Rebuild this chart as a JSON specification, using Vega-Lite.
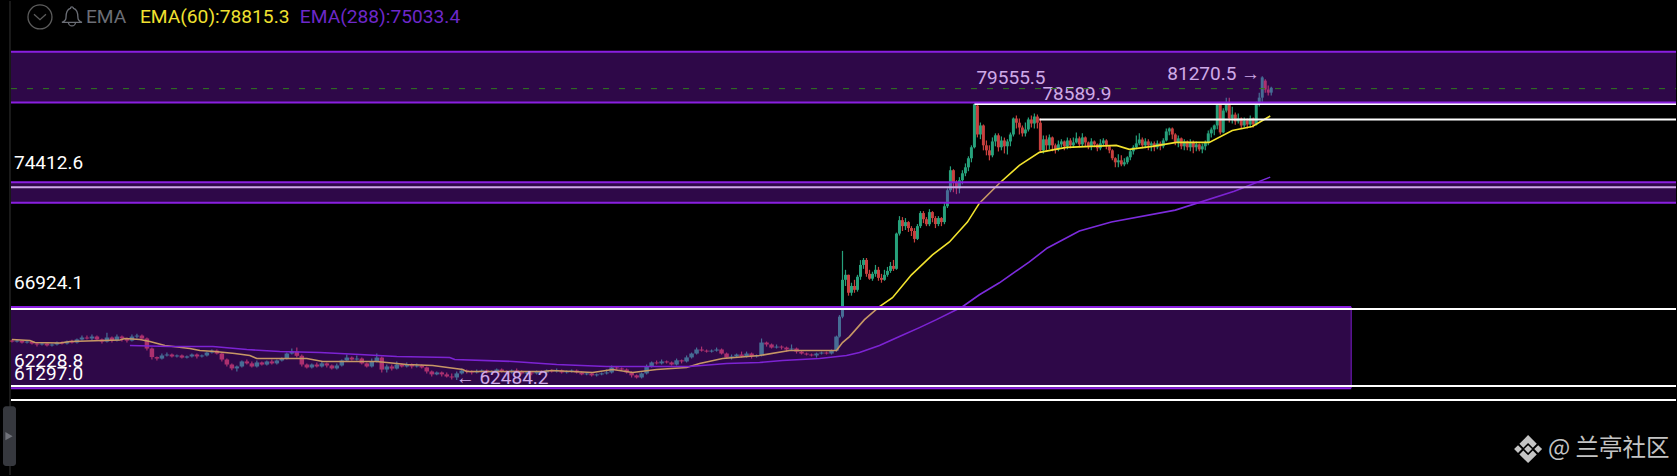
{"$schema":"https://vega.github.io/schema/vega-lite/v6.json","width":1677,"height":476,"padding":0,"autosize":{"type":"fit","contains":"padding"},"background":"#000000","config":{"view":{"stroke":null},"text":{"font":"Roboto"}},
"resolve":{"scale":{"color":"independent"}},
"datasets":{
"candles":[
{"t":12,"o":64920,"c":64860,"h":64990,"l":64800},{"t":17,"o":64860,"c":64920,"h":64980,"l":64800},{"t":22,"o":64920,"c":64800,"h":64930,"l":64740},{"t":27,"o":64800,"c":64860,"h":64920,"l":64740},{"t":32,"o":64860,"c":64740,"h":64870,"l":64680},{"t":37,"o":64740,"c":64680,"h":64800,"l":64560},{"t":42,"o":64680,"c":64740,"h":64800,"l":64620},{"t":47,"o":64740,"c":64620,"h":64750,"l":64560},{"t":52,"o":64620,"c":64680,"h":64740,"l":64560},{"t":57,"o":64680,"c":64800,"h":64860,"l":64620},{"t":62,"o":64800,"c":64740,"h":64860,"l":64680},{"t":67,"o":64740,"c":64860,"h":64920,"l":64680},{"t":72,"o":64860,"c":64800,"h":64980,"l":64740},{"t":77,"o":64800,"c":64990,"h":65050,"l":64740},{"t":82,"o":64990,"c":65110,"h":65230,"l":64920},{"t":87,"o":65110,"c":65050,"h":65230,"l":64990},{"t":92,"o":65050,"c":65170,"h":65290,"l":64920},{"t":97,"o":65170,"c":64990,"h":65230,"l":64920},{"t":102,"o":64990,"c":64860,"h":65050,"l":64740},{"t":107,"o":64860,"c":65110,"h":65410,"l":64800},{"t":112,"o":65110,"c":64920,"h":65170,"l":64800},{"t":117,"o":64920,"c":65170,"h":65290,"l":64860},{"t":122,"o":65170,"c":65050,"h":65230,"l":64860},{"t":127,"o":65050,"c":64920,"h":65110,"l":64800},{"t":132,"o":64920,"c":65170,"h":65290,"l":64860},{"t":137,"o":65170,"c":65230,"h":65350,"l":65050},{"t":142,"o":65230,"c":65050,"h":65290,"l":64990},{"t":147,"o":65050,"c":64430,"h":65110,"l":64310},{"t":152,"o":64430,"c":63900,"h":64490,"l":63750},{"t":157,"o":63900,"c":63810,"h":63940,"l":63690},{"t":162,"o":63810,"c":64000,"h":64120,"l":63750},{"t":167,"o":64000,"c":64060,"h":64180,"l":63940},{"t":172,"o":64060,"c":63940,"h":64120,"l":63870},{"t":177,"o":63940,"c":64000,"h":64060,"l":63870},{"t":182,"o":64000,"c":63870,"h":64060,"l":63810},{"t":187,"o":63870,"c":63940,"h":64000,"l":63810},{"t":192,"o":63940,"c":64060,"h":64120,"l":63870},{"t":197,"o":64060,"c":63940,"h":64120,"l":63810},{"t":202,"o":63940,"c":64000,"h":64060,"l":63870},{"t":207,"o":64000,"c":64180,"h":64240,"l":63940},{"t":212,"o":64180,"c":64300,"h":64370,"l":64120},{"t":217,"o":64300,"c":64120,"h":64370,"l":64060},{"t":222,"o":64120,"c":63750,"h":64180,"l":63630},{"t":227,"o":63750,"c":63440,"h":63810,"l":63320},{"t":232,"o":63440,"c":63200,"h":63510,"l":63080},{"t":237,"o":63200,"c":63320,"h":63380,"l":63010},{"t":242,"o":63320,"c":63630,"h":63690,"l":63260},{"t":247,"o":63630,"c":63510,"h":63750,"l":63440},{"t":252,"o":63510,"c":63320,"h":63630,"l":63260},{"t":257,"o":63320,"c":63570,"h":63690,"l":63260},{"t":262,"o":63570,"c":63440,"h":63630,"l":63380},{"t":267,"o":63440,"c":63630,"h":63690,"l":63380},{"t":272,"o":63630,"c":63510,"h":63750,"l":63440},{"t":277,"o":63510,"c":63690,"h":63750,"l":63440},{"t":282,"o":63690,"c":63810,"h":63870,"l":63630},{"t":287,"o":63810,"c":64120,"h":64180,"l":63750},{"t":292,"o":64120,"c":64240,"h":64430,"l":64060},{"t":297,"o":64240,"c":63980,"h":64490,"l":63870},{"t":302,"o":63980,"c":63440,"h":64060,"l":63320},{"t":307,"o":63440,"c":63260,"h":63510,"l":63200},{"t":312,"o":63260,"c":63440,"h":63510,"l":63200},{"t":317,"o":63440,"c":63320,"h":63570,"l":63260},{"t":322,"o":63320,"c":63510,"h":63630,"l":63260},{"t":327,"o":63510,"c":63380,"h":63570,"l":63260},{"t":332,"o":63380,"c":63200,"h":63440,"l":63130},{"t":337,"o":63200,"c":63380,"h":63510,"l":63130},{"t":342,"o":63380,"c":63690,"h":63750,"l":63320},{"t":347,"o":63690,"c":63870,"h":64060,"l":63630},{"t":352,"o":63870,"c":63750,"h":63940,"l":63690},{"t":357,"o":63750,"c":63810,"h":64000,"l":63690},{"t":362,"o":63810,"c":63510,"h":63870,"l":63440},{"t":367,"o":63510,"c":63320,"h":63570,"l":63260},{"t":372,"o":63320,"c":63630,"h":63810,"l":63260},{"t":377,"o":63630,"c":63870,"h":64120,"l":63570},{"t":382,"o":63870,"c":63130,"h":63940,"l":62950},{"t":387,"o":63130,"c":63320,"h":63440,"l":62950},{"t":392,"o":63320,"c":63190,"h":63440,"l":63070},{"t":397,"o":63190,"c":63440,"h":63630,"l":63130},{"t":402,"o":63440,"c":63320,"h":63510,"l":63260},{"t":407,"o":63320,"c":63440,"h":63570,"l":63260},{"t":412,"o":63440,"c":63320,"h":63510,"l":63190},{"t":417,"o":63320,"c":63380,"h":63510,"l":63260},{"t":422,"o":63380,"c":63260,"h":63440,"l":63190},{"t":427,"o":63260,"c":63010,"h":63320,"l":62890},{"t":432,"o":63010,"c":62830,"h":63070,"l":62700},{"t":437,"o":62830,"c":62950,"h":63010,"l":62770},{"t":442,"o":62950,"c":62830,"h":63010,"l":62700},{"t":447,"o":62830,"c":62700,"h":62950,"l":62640},{"t":452,"o":62700,"c":62640,"h":62890,"l":62520},{"t":457,"o":62640,"c":62890,"h":63010,"l":62490},{"t":462,"o":62890,"c":63070,"h":63200,"l":62830},{"t":467,"o":63070,"c":63010,"h":63130,"l":62890},{"t":472,"o":63010,"c":62950,"h":63070,"l":62830},{"t":477,"o":62950,"c":63010,"h":63130,"l":62890},{"t":482,"o":63010,"c":63070,"h":63130,"l":62950},{"t":487,"o":63070,"c":62950,"h":63130,"l":62890},{"t":492,"o":62950,"c":63010,"h":63070,"l":62890},{"t":497,"o":63010,"c":63130,"h":63200,"l":62950},{"t":502,"o":63130,"c":63010,"h":63190,"l":62950},{"t":507,"o":63010,"c":62950,"h":63070,"l":62890},{"t":512,"o":62950,"c":63070,"h":63130,"l":62890},{"t":517,"o":63070,"c":63010,"h":63190,"l":62950},{"t":522,"o":63010,"c":62890,"h":63070,"l":62830},{"t":527,"o":62890,"c":62950,"h":63010,"l":62830},{"t":532,"o":62950,"c":62890,"h":63010,"l":62770},{"t":537,"o":62890,"c":63010,"h":63070,"l":62830},{"t":542,"o":63010,"c":62950,"h":63070,"l":62890},{"t":547,"o":62950,"c":63070,"h":63130,"l":62890},{"t":552,"o":63070,"c":63010,"h":63130,"l":62950},{"t":557,"o":63010,"c":63070,"h":63200,"l":62950},{"t":562,"o":63070,"c":62950,"h":63130,"l":62890},{"t":567,"o":62950,"c":63010,"h":63070,"l":62890},{"t":572,"o":63010,"c":63070,"h":63130,"l":62950},{"t":577,"o":63070,"c":62950,"h":63130,"l":62890},{"t":582,"o":62950,"c":62830,"h":63010,"l":62770},{"t":587,"o":62830,"c":62890,"h":62950,"l":62770},{"t":592,"o":62890,"c":62770,"h":62950,"l":62700},{"t":597,"o":62770,"c":62830,"h":62890,"l":62700},{"t":602,"o":62830,"c":62890,"h":62950,"l":62770},{"t":607,"o":62890,"c":62950,"h":63130,"l":62830},{"t":612,"o":62950,"c":63260,"h":63380,"l":62890},{"t":617,"o":63260,"c":63200,"h":63320,"l":63130},{"t":622,"o":63200,"c":63130,"h":63260,"l":63070},{"t":627,"o":63130,"c":62950,"h":63190,"l":62890},{"t":632,"o":62950,"c":62770,"h":63010,"l":62640},{"t":637,"o":62770,"c":62640,"h":62830,"l":62580},{"t":642,"o":62640,"c":62890,"h":62950,"l":62580},{"t":647,"o":62890,"c":63320,"h":63440,"l":62830},{"t":652,"o":63320,"c":63570,"h":63630,"l":63260},{"t":657,"o":63570,"c":63510,"h":63690,"l":63440},{"t":662,"o":63510,"c":63630,"h":63750,"l":63440},{"t":667,"o":63630,"c":63570,"h":63690,"l":63510},{"t":672,"o":63570,"c":63440,"h":63630,"l":63380},{"t":677,"o":63440,"c":63700,"h":63810,"l":63380},{"t":682,"o":63700,"c":63630,"h":63750,"l":63510},{"t":687,"o":63630,"c":63880,"h":64000,"l":63570},{"t":692,"o":63880,"c":64120,"h":64180,"l":63810},{"t":697,"o":64120,"c":64370,"h":64490,"l":64060},{"t":702,"o":64370,"c":64300,"h":64550,"l":64240},{"t":707,"o":64300,"c":64240,"h":64370,"l":64180},{"t":712,"o":64240,"c":64300,"h":64370,"l":64180},{"t":717,"o":64300,"c":64370,"h":64490,"l":64240},{"t":722,"o":64370,"c":64120,"h":64430,"l":64060},{"t":727,"o":64120,"c":63870,"h":64180,"l":63810},{"t":732,"o":63870,"c":63940,"h":64060,"l":63750},{"t":737,"o":63940,"c":64060,"h":64120,"l":63870},{"t":742,"o":64060,"c":63940,"h":64240,"l":63870},{"t":747,"o":63940,"c":64120,"h":64240,"l":63870},{"t":752,"o":64120,"c":63940,"h":64180,"l":63810},{"t":757,"o":63940,"c":64000,"h":64060,"l":63870},{"t":762,"o":64000,"c":64800,"h":65050,"l":63940},{"t":767,"o":64800,"c":64680,"h":64860,"l":64550},{"t":772,"o":64680,"c":64490,"h":64740,"l":64430},{"t":777,"o":64490,"c":64550,"h":64680,"l":64430},{"t":782,"o":64550,"c":64490,"h":64620,"l":64370},{"t":787,"o":64490,"c":64370,"h":64550,"l":64240},{"t":792,"o":64370,"c":64430,"h":64680,"l":64300},{"t":797,"o":64430,"c":64240,"h":64490,"l":64120},{"t":802,"o":64240,"c":64120,"h":64300,"l":64060},{"t":807,"o":64120,"c":64060,"h":64180,"l":64000},{"t":812,"o":64060,"c":64000,"h":64120,"l":63940},{"t":817,"o":64000,"c":64120,"h":64180,"l":63870},{"t":822,"o":64120,"c":64180,"h":64240,"l":64060},{"t":827,"o":64180,"c":64120,"h":64240,"l":64060},{"t":832,"o":64120,"c":64300,"h":64370,"l":64060},{"t":837,"o":64300,"c":65170,"h":65230,"l":64240},
{"t":840,"o":65170,"c":66400,"h":66500,"l":65110},{"t":843,"o":66400,"c":68680,"h":70470,"l":66300},{"t":846,"o":68680,"c":68990,"h":69300,"l":68300},{"t":849,"o":68990,"c":67880,"h":69000,"l":67700},{"t":852,"o":67880,"c":68300,"h":68500,"l":67700},{"t":855,"o":68300,"c":68060,"h":68680,"l":67880},{"t":858,"o":68060,"c":68870,"h":68990,"l":67950},{"t":861,"o":68870,"c":69600,"h":69900,"l":68680},{"t":864,"o":69600,"c":69910,"h":70030,"l":69360},{"t":867,"o":69910,"c":69050,"h":70030,"l":68870},{"t":870,"o":69050,"c":68750,"h":69300,"l":68680},{"t":873,"o":68750,"c":69050,"h":69180,"l":68620},{"t":876,"o":69050,"c":69300,"h":69600,"l":68870},{"t":879,"o":69300,"c":68800,"h":69480,"l":68620},{"t":882,"o":68800,"c":68680,"h":69050,"l":68500},{"t":885,"o":68680,"c":68990,"h":69300,"l":68620},{"t":888,"o":68990,"c":69230,"h":69480,"l":68870},{"t":891,"o":69230,"c":69540,"h":69780,"l":69110},{"t":894,"o":69540,"c":69360,"h":69910,"l":69230},{"t":897,"o":69360,"c":71540,"h":71600,"l":69300},{"t":900,"o":71540,"c":72370,"h":72620,"l":71420},{"t":903,"o":72370,"c":72000,"h":72560,"l":71700},{"t":906,"o":72000,"c":72250,"h":72500,"l":71760},{"t":909,"o":72250,"c":71880,"h":72310,"l":71640},{"t":912,"o":71880,"c":71700,"h":72000,"l":71390},{"t":915,"o":71700,"c":71210,"h":71880,"l":70990},{"t":918,"o":71210,"c":72000,"h":72130,"l":71140},{"t":921,"o":72000,"c":72810,"h":72930,"l":71880},{"t":924,"o":72810,"c":72430,"h":72930,"l":72190},{"t":927,"o":72430,"c":72120,"h":72560,"l":72000},{"t":930,"o":72120,"c":72870,"h":73050,"l":72000},{"t":933,"o":72870,"c":72500,"h":72930,"l":72240},{"t":936,"o":72500,"c":72130,"h":72620,"l":71880},{"t":939,"o":72130,"c":72500,"h":72620,"l":72000},{"t":942,"o":72500,"c":72250,"h":72560,"l":72000},{"t":945,"o":72250,"c":73230,"h":73420,"l":72120},{"t":948,"o":73230,"c":74220,"h":74340,"l":73120},{"t":951,"o":74220,"c":75460,"h":75700,"l":74100},{"t":954,"o":75460,"c":74720,"h":75520,"l":74100},{"t":957,"o":74720,"c":74340,"h":74840,"l":73980},{"t":960,"o":74340,"c":74840,"h":75030,"l":74030},{"t":963,"o":74840,"c":75270,"h":75460,"l":74590},{"t":966,"o":75270,"c":75640,"h":75880,"l":75090},{"t":969,"o":75640,"c":76200,"h":76320,"l":75400},{"t":972,"o":76200,"c":76880,"h":77000,"l":75950},{"t":975,"o":76880,"c":79550,"h":79555,"l":76810},{"t":978,"o":79460,"c":77670,"h":79520,"l":77490},{"t":981,"o":77670,"c":78230,"h":78410,"l":77380},{"t":984,"o":78230,"c":77000,"h":78290,"l":76690},{"t":987,"o":77000,"c":76690,"h":77300,"l":76380},{"t":990,"o":76690,"c":76380,"h":77000,"l":76070},{"t":993,"o":76380,"c":77240,"h":77490,"l":76260},{"t":996,"o":77240,"c":77620,"h":77740,"l":76940},{"t":999,"o":77620,"c":76880,"h":77740,"l":76620},{"t":1002,"o":76880,"c":77300,"h":77550,"l":76690},{"t":1005,"o":77300,"c":76940,"h":77480,"l":76500},{"t":1008,"o":76940,"c":77240,"h":77370,"l":76440},{"t":1011,"o":77240,"c":77670,"h":77800,"l":76940},{"t":1014,"o":77670,"c":78660,"h":78720,"l":77550},{"t":1017,"o":78660,"c":78400,"h":78850,"l":78040},{"t":1020,"o":78400,"c":78100,"h":78660,"l":77670},{"t":1023,"o":78100,"c":77740,"h":78230,"l":77550},{"t":1026,"o":77740,"c":77980,"h":78410,"l":77550},{"t":1029,"o":77980,"c":78600,"h":78720,"l":77860},{"t":1032,"o":78600,"c":78350,"h":78850,"l":78100},{"t":1035,"o":78350,"c":78780,"h":78970,"l":78040},{"t":1038,"o":78780,"c":78400,"h":78900,"l":78040},{"t":1041,"o":78400,"c":76690,"h":78660,"l":76570},{"t":1044,"o":76690,"c":77370,"h":77610,"l":76500},{"t":1047,"o":77370,"c":77000,"h":77610,"l":76690},{"t":1050,"o":77000,"c":77490,"h":77670,"l":76750},{"t":1053,"o":77490,"c":77000,"h":77550,"l":76630},{"t":1056,"o":77000,"c":76750,"h":77120,"l":76500},{"t":1059,"o":76750,"c":77060,"h":77300,"l":76630},{"t":1062,"o":77060,"c":77240,"h":77370,"l":76880},{"t":1065,"o":77240,"c":76940,"h":77300,"l":76690},{"t":1068,"o":76940,"c":77300,"h":77480,"l":76750},{"t":1071,"o":77300,"c":77000,"h":77430,"l":76820},{"t":1074,"o":77000,"c":77180,"h":77490,"l":76880},{"t":1077,"o":77180,"c":77430,"h":77790,"l":77120},{"t":1080,"o":77430,"c":77060,"h":77550,"l":76880},{"t":1083,"o":77060,"c":77490,"h":77740,"l":76940},{"t":1086,"o":77490,"c":77180,"h":77550,"l":76940},{"t":1089,"o":77180,"c":76940,"h":77240,"l":76750},{"t":1092,"o":76940,"c":77240,"h":77430,"l":76690},{"t":1095,"o":77240,"c":77060,"h":77300,"l":76880},{"t":1098,"o":77060,"c":76820,"h":77120,"l":76630},{"t":1101,"o":76820,"c":77120,"h":77370,"l":76690},{"t":1104,"o":77120,"c":77300,"h":77430,"l":76940},{"t":1107,"o":77300,"c":76940,"h":77370,"l":76750},{"t":1110,"o":76940,"c":76690,"h":77000,"l":76510},{"t":1113,"o":76690,"c":76200,"h":76750,"l":76070},{"t":1116,"o":76200,"c":75950,"h":76260,"l":75650},{"t":1119,"o":75950,"c":76070,"h":76450,"l":75640},{"t":1122,"o":76070,"c":75820,"h":76380,"l":75700},{"t":1125,"o":75820,"c":75950,"h":76200,"l":75700},{"t":1128,"o":75950,"c":76260,"h":76320,"l":75830},{"t":1131,"o":76260,"c":76630,"h":76750,"l":76070},{"t":1134,"o":76630,"c":76880,"h":77000,"l":76440},{"t":1137,"o":76880,"c":77120,"h":77610,"l":76750},{"t":1140,"o":77120,"c":77360,"h":77740,"l":77000},{"t":1143,"o":77360,"c":77000,"h":77490,"l":76820},{"t":1146,"o":77000,"c":77240,"h":77430,"l":76820},{"t":1149,"o":77240,"c":77000,"h":77370,"l":76690},{"t":1152,"o":77000,"c":77120,"h":77240,"l":76630},{"t":1155,"o":77120,"c":76880,"h":77240,"l":76630},{"t":1158,"o":76880,"c":77120,"h":77300,"l":76750},{"t":1161,"o":77120,"c":76940,"h":77240,"l":76690},{"t":1164,"o":76940,"c":77300,"h":77430,"l":76820},{"t":1167,"o":77300,"c":77860,"h":78040,"l":77240},{"t":1170,"o":77860,"c":78040,"h":78100,"l":77620},{"t":1173,"o":78040,"c":77670,"h":78100,"l":77370},{"t":1176,"o":77670,"c":77180,"h":77740,"l":77000},{"t":1179,"o":77180,"c":77430,"h":77610,"l":76880},{"t":1182,"o":77430,"c":76940,"h":77490,"l":76750},{"t":1185,"o":76940,"c":77240,"h":77370,"l":76690},{"t":1188,"o":77240,"c":76880,"h":77300,"l":76690},{"t":1191,"o":76880,"c":77180,"h":77370,"l":76630},{"t":1194,"o":77180,"c":76880,"h":77300,"l":76510},{"t":1197,"o":76880,"c":77060,"h":77240,"l":76630},{"t":1200,"o":77060,"c":76750,"h":77120,"l":76630},{"t":1203,"o":76750,"c":76940,"h":77120,"l":76510},{"t":1206,"o":76940,"c":77180,"h":77300,"l":76690},{"t":1209,"o":77180,"c":77740,"h":77920,"l":77000},{"t":1212,"o":77740,"c":77980,"h":78100,"l":77490},{"t":1215,"o":77980,"c":78230,"h":78290,"l":77620},{"t":1218,"o":78230,"c":79640,"h":79650,"l":78000},{"t":1221,"o":79640,"c":77800,"h":79640,"l":77670},{"t":1224,"o":77800,"c":79150,"h":79300,"l":77740},{"t":1227,"o":79150,"c":79640,"h":79950,"l":79030},{"t":1230,"o":79640,"c":78660,"h":79950,"l":78410},{"t":1233,"o":78660,"c":78900,"h":79390,"l":78350},{"t":1236,"o":78900,"c":78480,"h":79030,"l":78280},{"t":1239,"o":78480,"c":78660,"h":78970,"l":78350},{"t":1242,"o":78660,"c":78230,"h":78720,"l":78040},{"t":1245,"o":78230,"c":78540,"h":78720,"l":78100},{"t":1248,"o":78540,"c":78290,"h":78660,"l":78040},{"t":1251,"o":78290,"c":78660,"h":78840,"l":78100},{"t":1254,"o":78660,"c":78290,"h":78720,"l":78100},{"t":1257,"o":78290,"c":79640,"h":79700,"l":78230},{"t":1260,"o":79640,"c":79950,"h":80260,"l":79400},{"t":1263,"o":79950,"c":81200,"h":81270,"l":79700},{"t":1266,"o":81000,"c":80450,"h":81080,"l":80260},{"t":1269,"o":80450,"c":80260,"h":80700,"l":80080},{"t":1272,"o":80260,"c":80560,"h":80630,"l":80080}
],
"ema":[
{"s":"60","t":12,"p":64984},{"s":"60","t":30,"p":64922},{"s":"60","t":35,"p":64799},{"s":"60","t":60,"p":64768},{"s":"60","t":70,"p":64861},{"s":"60","t":120,"p":64953},{"s":"60","t":125,"p":65046},{"s":"60","t":140,"p":64984},{"s":"60","t":150,"p":64861},{"s":"60","t":165,"p":64614},{"s":"60","t":190,"p":64430},{"s":"60","t":200,"p":64306},{"s":"60","t":215,"p":64245},{"s":"60","t":235,"p":64122},{"s":"60","t":250,"p":63998},{"s":"60","t":257,"p":63814},{"s":"60","t":307,"p":63814},{"s":"60","t":323,"p":63629},{"s":"60","t":377,"p":63629},{"s":"60","t":387,"p":63567},{"s":"60","t":407,"p":63444},{"s":"60","t":433,"p":63382},{"s":"60","t":448,"p":63259},{"s":"60","t":463,"p":63136},{"s":"60","t":467,"p":63013},{"s":"60","t":543,"p":63013},{"s":"60","t":552,"p":63074},{"s":"60","t":593,"p":62951},{"s":"60","t":613,"p":63136},{"s":"60","t":633,"p":62951},{"s":"60","t":657,"p":63136},{"s":"60","t":687,"p":63259},{"s":"60","t":700,"p":63506},{"s":"60","t":723,"p":63814},{"s":"60","t":760,"p":63998},{"s":"60","t":790,"p":64306},{"s":"60","t":837,"p":64306},{"s":"60","t":843,"p":64799},{"s":"60","t":850,"p":65169},{"s":"60","t":865,"p":66216},{"s":"60","t":880,"p":67017},{"s":"60","t":893,"p":67571},{"s":"60","t":912,"p":68988},{"s":"60","t":933,"p":70220},{"s":"60","t":950,"p":71021},{"s":"60","t":968,"p":72253},{"s":"60","t":980,"p":73423},{"s":"60","t":1000,"p":74655},{"s":"60","t":1020,"p":75764},{"s":"60","t":1040,"p":76565},{"s":"60","t":1067,"p":76873},{"s":"60","t":1117,"p":76996},{"s":"60","t":1130,"p":76750},{"s":"60","t":1153,"p":76934},{"s":"60","t":1177,"p":77181},{"s":"60","t":1210,"p":77181},{"s":"60","t":1233,"p":77920},{"s":"60","t":1253,"p":78166},{"s":"60","t":1271,"p":78815},
{"s":"288","t":130,"p":64614},{"s":"288","t":170,"p":64553},{"s":"288","t":213,"p":64553},{"s":"288","t":247,"p":64368},{"s":"288","t":280,"p":64245},{"s":"288","t":320,"p":64183},{"s":"288","t":360,"p":64060},{"s":"288","t":397,"p":63937},{"s":"288","t":450,"p":63875},{"s":"288","t":455,"p":63752},{"s":"288","t":513,"p":63629},{"s":"288","t":557,"p":63444},{"s":"288","t":607,"p":63321},{"s":"288","t":690,"p":63321},{"s":"288","t":727,"p":63506},{"s":"288","t":760,"p":63567},{"s":"288","t":783,"p":63690},{"s":"288","t":820,"p":63814},{"s":"288","t":847,"p":63998},{"s":"288","t":860,"p":64183},{"s":"288","t":880,"p":64614},{"s":"288","t":900,"p":65169},{"s":"288","t":920,"p":65723},{"s":"288","t":937,"p":66216},{"s":"288","t":963,"p":67017},{"s":"288","t":980,"p":67756},{"s":"288","t":1000,"p":68495},{"s":"288","t":1030,"p":69789},{"s":"288","t":1048,"p":70651},{"s":"288","t":1080,"p":71698},{"s":"288","t":1112,"p":72253},{"s":"288","t":1176,"p":72992},{"s":"288","t":1235,"p":74162},{"s":"288","t":1271,"p":75033}
],
"levelsUnder":[{"t":11,"t2":1677,"p":74412.6},{"t":975,"t2":1677,"p":79555.5},{"t":1040,"t2":1677,"p":78589.9}],
"levelsOver":[{"t":11,"t2":1677,"p":66870},{"t":11,"t2":1677,"p":62110},{"t":11,"t2":1677,"p":61250}],
"labelsUnder":[{"t":977,"p":81185,"text":"79555.5"},{"t":1043,"p":80199,"text":"78589.9"},{"t":1168,"p":81431,"text":"81270.5 →"},{"t":456,"p":62582,"text":"← 62484.2"}],
"labelsOver":[{"t":14,"p":76010,"text":"74412.6"},{"t":14,"p":68557,"text":"66924.1"},{"t":14,"p":63752,"text":"62228.8"},{"t":14,"p":62951,"text":"61297.0"}],
"bands":[{"t":11,"t2":1677,"top":82786,"bot":79645},{"t":11,"t2":1677,"top":74717,"bot":73440},{"t":11,"t2":1352,"top":67000,"bot":61980}],
"header":[{"t":86,"p":84942,"text":"EMA","col":"a"},{"t":140,"p":84942,"text":"EMA(60):78815.3","col":"b"},{"t":300,"p":84942,"text":"EMA(288):75033.4","col":"c"}],
"anchor":[{"t":40,"p":84942}],
"bell":[{"t":72,"p":84942}],
"logo":[{"t":1529,"p":58208}],
"wm":[{"t":1549,"p":58208,"text":"@ 兰亭社区"}],
"strip":[{"t":10,"a":85928,"b":56606}],
"handle":[{"t":3,"t2":16,"top":60857,"bot":57161}],
"arrow":[{"t":9,"p":59009}],
"dash":[{"t":11,"t2":1677,"p":80507}],
"edge":[{"t":1352,"top":67000,"bot":61980}]
},
"layer":[
{"data":{"name":"strip"},"mark":{"type":"rule","stroke":"#1a1a1a","strokeWidth":2},"encoding":{"x":{"field":"t","type":"quantitative","scale":{"domain":[0,1677]},"axis":null},"y":{"field":"a","type":"quantitative","scale":{"domain":[56606,85928]},"axis":null},"y2":{"field":"b"}}},
{"data":{"name":"candles"},"mark":{"type":"rule","strokeWidth":1.2},"encoding":{"x":{"field":"t","type":"quantitative","scale":{"domain":[0,1677]},"axis":null},"y":{"field":"l","type":"quantitative","scale":{"domain":[56606,85928]},"axis":null},"y2":{"field":"h"},"color":{"condition":{"test":"datum.c>=datum.o","value":"#26a17b"},"value":"#c8403f"}}},
{"data":{"name":"candles"},"transform":[{"filter":"datum.t<840"}],"mark":{"type":"rule","strokeWidth":4.5},"encoding":{"x":{"field":"t","type":"quantitative","scale":{"domain":[0,1677]},"axis":null},"y":{"field":"o","type":"quantitative","scale":{"domain":[56606,85928]},"axis":null},"y2":{"field":"c"},"color":{"condition":{"test":"datum.c>=datum.o","value":"#26a17b"},"value":"#c8403f"}}},
{"data":{"name":"candles"},"transform":[{"filter":"datum.t>=840"}],"mark":{"type":"rule","strokeWidth":3},"encoding":{"x":{"field":"t","type":"quantitative","scale":{"domain":[0,1677]},"axis":null},"y":{"field":"o","type":"quantitative","scale":{"domain":[56606,85928]},"axis":null},"y2":{"field":"c"},"color":{"condition":{"test":"datum.c>=datum.o","value":"#26a17b"},"value":"#c8403f"}}},
{"data":{"name":"ema"},"mark":{"type":"line","strokeWidth":1.6,"interpolate":"linear"},"encoding":{"x":{"field":"t","type":"quantitative","scale":{"domain":[0,1677]},"axis":null},"y":{"field":"p","type":"quantitative","scale":{"domain":[56606,85928]},"axis":null},"color":{"field":"s","type":"nominal","scale":{"domain":["60","288"],"range":["#f2e32e","#7c2bdc"]},"legend":null},"order":{"field":"t"}}},
{"data":{"name":"levelsUnder"},"mark":{"type":"rule","stroke":"#ffffff","strokeWidth":2},"encoding":{"x":{"field":"t","type":"quantitative","scale":{"domain":[0,1677]},"axis":null},"x2":{"field":"t2"},"y":{"field":"p","type":"quantitative","scale":{"domain":[56606,85928]},"axis":null}}},
{"data":{"name":"labelsUnder"},"mark":{"type":"text","align":"left","baseline":"middle","fontSize":19,"font":"Roboto","fill":"#ffffff"},"encoding":{"x":{"field":"t","type":"quantitative","scale":{"domain":[0,1677]},"axis":null},"y":{"field":"p","type":"quantitative","scale":{"domain":[56606,85928]},"axis":null},"text":{"field":"text"}}},
{"data":{"name":"bands"},"mark":{"type":"rect","fill":"#7c16c3","fillOpacity":0.37},"encoding":{"x":{"field":"t","type":"quantitative","scale":{"domain":[0,1677]},"axis":null},"x2":{"field":"t2"},"y":{"field":"top","type":"quantitative","scale":{"domain":[56606,85928]},"axis":null},"y2":{"field":"bot"}}},
{"data":{"name":"bands"},"mark":{"type":"rule","stroke":"#8a1fe0","strokeWidth":2},"encoding":{"x":{"field":"t","type":"quantitative","scale":{"domain":[0,1677]},"axis":null},"x2":{"field":"t2"},"y":{"field":"top","type":"quantitative","scale":{"domain":[56606,85928]},"axis":null}}},
{"data":{"name":"bands"},"mark":{"type":"rule","stroke":"#8a1fe0","strokeWidth":2},"encoding":{"x":{"field":"t","type":"quantitative","scale":{"domain":[0,1677]},"axis":null},"x2":{"field":"t2"},"y":{"field":"bot","type":"quantitative","scale":{"domain":[56606,85928]},"axis":null}}},
{"data":{"name":"edge"},"mark":{"type":"rule","stroke":"#7a1cc8","strokeWidth":1},"encoding":{"x":{"field":"t","type":"quantitative","scale":{"domain":[0,1677]},"axis":null},"y":{"field":"top","type":"quantitative","scale":{"domain":[56606,85928]},"axis":null},"y2":{"field":"bot"}}},
{"data":{"name":"dash"},"mark":{"type":"rule","stroke":"#2f7a1c","strokeWidth":1,"strokeDash":[6,10]},"encoding":{"x":{"field":"t","type":"quantitative","scale":{"domain":[0,1677]},"axis":null},"x2":{"field":"t2"},"y":{"field":"p","type":"quantitative","scale":{"domain":[56606,85928]},"axis":null}}},
{"data":{"name":"levelsOver"},"mark":{"type":"rule","stroke":"#ffffff","strokeWidth":2},"encoding":{"x":{"field":"t","type":"quantitative","scale":{"domain":[0,1677]},"axis":null},"x2":{"field":"t2"},"y":{"field":"p","type":"quantitative","scale":{"domain":[56606,85928]},"axis":null}}},
{"data":{"name":"labelsOver"},"mark":{"type":"text","align":"left","baseline":"middle","dy":1.5,"fontSize":19,"font":"Roboto","fill":"#ffffff"},"encoding":{"x":{"field":"t","type":"quantitative","scale":{"domain":[0,1677]},"axis":null},"y":{"field":"p","type":"quantitative","scale":{"domain":[56606,85928]},"axis":null},"text":{"field":"text"}}},
{"data":{"name":"header"},"mark":{"type":"text","align":"left","baseline":"middle","fontSize":19.2,"font":"Roboto"},"encoding":{"x":{"field":"t","type":"quantitative","scale":{"domain":[0,1677]},"axis":null},"y":{"field":"p","type":"quantitative","scale":{"domain":[56606,85928]},"axis":null},"text":{"field":"text"},"color":{"field":"col","type":"nominal","scale":{"domain":["a","b","c"],"range":["#6b6e76","#f0e130","#6d28c9"]},"legend":null}}},
{"data":{"name":"anchor"},"mark":{"type":"point","shape":"circle","size":576,"filled":false,"stroke":"#5c5c5c","strokeWidth":1.3,"opacity":1},"encoding":{"x":{"field":"t","type":"quantitative","scale":{"domain":[0,1677]},"axis":null},"y":{"field":"p","type":"quantitative","scale":{"domain":[56606,85928]},"axis":null}}},
{"data":{"name":"anchor"},"mark":{"type":"point","shape":"M-1,-0.45 L0,0.45 L1,-0.45","size":144,"filled":false,"stroke":"#5c5c5c","strokeWidth":1.3,"opacity":1},"encoding":{"x":{"field":"t","type":"quantitative","scale":{"domain":[0,1677]},"axis":null},"y":{"field":"p","type":"quantitative","scale":{"domain":[56606,85928]},"axis":null}}},
{"data":{"name":"bell"},"mark":{"type":"point","shape":"M-0.15,-0.85 A0.15,0.15 0 0 1 0.15,-0.85 C0.55,-0.75 0.6,-0.3 0.6,0.1 C0.6,0.35 0.8,0.45 1,0.55 L-1,0.55 C-0.8,0.45 -0.6,0.35 -0.6,0.1 C-0.6,-0.3 -0.55,-0.75 -0.15,-0.85 Z M-0.35,0.55 A0.35,0.35 0 0 0 0.35,0.55","size":400,"filled":false,"stroke":"#6b6e76","strokeWidth":1.3,"opacity":1},"encoding":{"x":{"field":"t","type":"quantitative","scale":{"domain":[0,1677]},"axis":null},"y":{"field":"p","type":"quantitative","scale":{"domain":[56606,85928]},"axis":null}}},
{"data":{"name":"logo"},"mark":{"type":"point","shape":"M0,-0.28 L0.28,0 L0,0.28 L-0.28,0 Z M-1,0 L-0.72,-0.28 L-0.44,0 L-0.72,0.28 Z M1,0 L0.72,-0.28 L0.44,0 L0.72,0.28 Z M0,-1 L0.62,-0.38 L0.34,-0.1 L0,-0.44 L-0.34,-0.1 L-0.62,-0.38 Z M0,1 L0.62,0.38 L0.34,0.1 L0,0.44 L-0.34,0.1 L-0.62,0.38 Z","size":784,"filled":true,"fill":"#c4c4c4","opacity":1},"encoding":{"x":{"field":"t","type":"quantitative","scale":{"domain":[0,1677]},"axis":null},"y":{"field":"p","type":"quantitative","scale":{"domain":[56606,85928]},"axis":null}}},
{"data":{"name":"wm"},"mark":{"type":"text","align":"left","baseline":"middle","fontSize":23.5,"font":"Noto Sans CJK SC","fill":"#c4c4c4"},"encoding":{"x":{"field":"t","type":"quantitative","scale":{"domain":[0,1677]},"axis":null},"y":{"field":"p","type":"quantitative","scale":{"domain":[56606,85928]},"axis":null},"text":{"field":"text"}}},
{"data":{"name":"handle"},"mark":{"type":"rect","fill":"#36383e","cornerRadius":3},"encoding":{"x":{"field":"t","type":"quantitative","scale":{"domain":[0,1677]},"axis":null},"x2":{"field":"t2"},"y":{"field":"top","type":"quantitative","scale":{"domain":[56606,85928]},"axis":null},"y2":{"field":"bot"}}},
{"data":{"name":"arrow"},"mark":{"type":"point","shape":"triangle-right","size":70,"filled":true,"fill":"#70727a","opacity":1},"encoding":{"x":{"field":"t","type":"quantitative","scale":{"domain":[0,1677]},"axis":null},"y":{"field":"p","type":"quantitative","scale":{"domain":[56606,85928]},"axis":null}}}
]}
